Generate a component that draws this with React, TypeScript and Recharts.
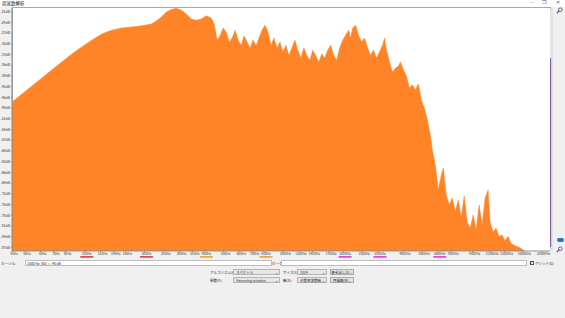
import React from 'react';
import { AreaChart, Area, XAxis, YAxis } from 'recharts';

// spectrum (Hz / dB)
const freqHz = [
  43, 48.3, 54.2, 60.8, 68.3, 76.6, 86, 96.5, 108.4, 121.6, 136.5, 153.3, 172, 193, 216.7, 229.6,
  243.3, 257.8, 273, 289, 306.5, 324.7, 344, 364.5, 386, 409, 433.5, 448.8, 464.6, 481, 497.9,
  515.5, 533.6, 552.3, 571.8, 592, 613, 634.6, 657, 680.2, 704.1, 728.9, 754.6, 781, 808.5, 837,
  867, 897.6, 929.3, 962, 995.8, 1030.9, 1067.2, 1104.7, 1143.7, 1183.9, 1226, 1269.3, 1314,
  1360.4, 1408.2, 1457.9, 1509.2, 1561.9, 1617, 1674, 1733, 1794.2, 1857.4, 1922.9, 1991.5,
  2061.8, 2134.4, 2184, 2235.1, 2314, 2395.4, 2480.4, 2568, 2658.5, 2752, 2849.1, 2949.6, 3053.6,
  3161.3, 3235.1, 3310.8, 3427.6, 3548.1, 3673.3, 3802.6, 3891, 4028.4, 4170.4, 4317.5, 4470.2,
  4627.9, 4790.8, 4958.9, 5133.9, 5314.7, 5504, 5632.8, 5831.5, 6036.8, 6249.7, 6396.1, 6621.6,
  6855.1, 7096.3, 7346.6, 7605.2, 7873.3, 8151.1, 8438.3, 8736, 9044.4, 9363.2, 9693.5, 10034.4,
  10388.4, 10754.1, 11008, 11396.6, 11798.4, 12214.5, 12647.2, 13093.3, 13554.3, 14030.9,
  14695.3, 15568, 16494.3,
];
const levelDb = [
  -46.3, -44.1, -41.8, -39.6, -37.3, -35.1, -32.9, -30.9, -29.0, -27.3, -26.2, -25.6, -25.3, -25.0, -24.5, -23.6,
  -22.5, -21.1, -20.4, -20.1, -20.6, -21.7, -23.1, -23.4, -23.1, -22.2, -22.8, -24.5, -29.0, -27.6, -25.6,
  -26.7, -29.5, -28.4, -26.2, -29.0, -30.4, -27.8, -29.5, -31.2, -29.0, -30.6, -28.4, -26.2, -24.8, -26.7,
  -30.4, -28.4, -31.2, -29.5, -32.3, -30.4, -33.2, -31.2, -29.0, -31.8, -34.0, -31.2, -33.2,
  -34.6, -31.8, -33.4, -35.1, -32.9, -34.0, -31.8, -30.4, -33.2, -34.6, -31.2, -29.0,
  -27.6, -26.2, -28.4, -25.6, -24.8, -27.6, -29.5, -28.4, -31.2, -33.2, -31.8, -34.0, -32.3,
  -30.4, -28.4, -31.8, -35.1, -37.9, -36.8, -36.2, -35.1, -37.3, -39.0, -42.4, -41.5,
  -42.9, -41.3, -45.7, -48.0, -51.3, -55.5, -59.7, -63.9, -70.9, -66.7, -64.8, -72.3,
  -75.1, -73.2, -77.1, -73.7, -78.8, -72.6, -79.9, -81.6, -77.9, -82.1, -75.1, -80.7,
  -73.2, -70.9, -79.9, -82.7, -81.6, -83.9, -83.5, -85.1, -83.9, -85.9,
  -86.5, -87.1, -88.0,
];

const freqTicks = [
  43, 50, 60, 70, 80, 100, 120, 140, 160, 200, 250, 300, 350, 400, 500, 600, 700, 800, 1000, 1200,
  1400, 1700, 2000, 2500, 3000, 4000, 5000, 6000, 7000, 9000, 11000, 13000, 16000, 20000,
];
const dbTicks = [
  -21, -24, -27, -30, -33, -36, -39, -42, -45, -48, -51, -54, -57, -60, -63, -66, -69, -72, -75, -78,
  -81, -84, -87,
];
const redMarks = [100, 200];
const orangeMarks = [400, 800];
const pinkMarks = [2000, 3000, 6000];

const data = freqHz.map((f, i) => ({ f, db: levelDb[i] }));

const markColor = (v: number) => {
  if (redMarks.includes(v)) return '#d9232d';
  if (orangeMarks.includes(v)) return '#f5921e';
  if (pinkMarks.includes(v)) return '#e424c8';
  return null;
};

const FreqTick = (props: any) => {
  const { x, y, payload } = props;
  const c = markColor(payload.value);
  return (
    <g>
      <text x={x + 2} y={y + 3} fontSize={3.3} textAnchor="middle" fill="#333">{payload.value}Hz</text>
      {c && <rect x={x + 2 - 6.5} y={y + 4.2} width={13} height={1.4} fill={c} />}
    </g>
  );
};

const txt = (s: string, left: number, top: number, extra: React.CSSProperties = {}) => (
  <div style={{ position: 'absolute', left, top, fontSize: 4, lineHeight: '5px', color: '#222', whiteSpace: 'nowrap', ...extra }}>{s}</div>
);

const box = (left: number, top: number, width: number, height: number, extra: React.CSSProperties = {}) => (
  <div style={{ position: 'absolute', left, top, width, height, boxSizing: 'border-box', ...extra }} />
);

const Select = ({ left, top, width, label }: { left: number; top: number; width: number; label: string }) => (
  <div style={{ position: 'absolute', left, top, width, height: 6, boxSizing: 'border-box', border: '0.5px solid #b4b4b4', background: '#e6e6e6', fontSize: 3.5, lineHeight: '5px', paddingLeft: 2, color: '#333', whiteSpace: 'nowrap' }}>
    {label}
    <span style={{ position: 'absolute', right: 1, top: 0, fontSize: 3.5 }}>⌄</span>
  </div>
);

const Button = ({ left, top, label }: { left: number; top: number; label: string }) => (
  <div style={{ position: 'absolute', left, top, width: 24, height: 6, boxSizing: 'border-box', border: '0.5px solid #adadad', background: '#e1e1e1', fontSize: 3.5, lineHeight: '5px', textAlign: 'center', color: '#222', whiteSpace: 'nowrap' }}>{label}</div>
);

const Magnifier = ({ left, top }: { left: number; top: number }) => (
  <svg style={{ position: 'absolute', left, top }} width={7} height={7} viewBox="0 0 7 7">
    <circle cx={4.3} cy={2.7} r={1.8} fill="none" stroke="#5a4a8a" strokeWidth={0.9} />
    <line x1={3} y1={4} x2={0.8} y2={6.2} stroke="#5a4a8a" strokeWidth={1.1} />
  </svg>
);

export default function App() {
  return (
    <div style={{ position: 'relative', width: 565, height: 318, background: '#f0f0f0', overflow: 'hidden', fontFamily: '"Noto Sans CJK JP", "Noto Sans", sans-serif' }}>
      <style>{'body{margin:0}'}</style>
      {box(0, 0, 565, 7, { background: '#ffffff' })}
      {txt('周波数解析', 2, 1, { fontSize: 4.5 })}
      {txt('—', 530, 0, { fontSize: 4.5, color: '#555' })}
      {txt('❐', 542, 0, { fontSize: 4.5, color: '#555' })}
      {txt('✕', 556, 0, { fontSize: 4.5, color: '#555' })}

      {box(12, 7, 539, 245, { background: '#ffffff', borderTop: '1px solid #a8a8a8', borderLeft: '1px solid #a8a8a8' })}

      <div style={{ position: 'absolute', left: 0, top: 0 }}>
        <AreaChart width={551} height={262} data={data} margin={{ top: 8, right: 1, left: 0, bottom: 0 }}>
          <XAxis
            dataKey="f"
            type="number"
            scale="log"
            domain={[43, 22050]}
            ticks={freqTicks}
            interval={0}
            allowDataOverflow
            height={11}
            tickSize={1}
            tickMargin={0}
            tick={<FreqTick />}
            stroke="#8a8a8a"
          />
          <YAxis
            type="number"
            domain={[-88, -20]}
            ticks={dbTicks}
            interval={0}
            allowDataOverflow
            width={12}
            tickSize={1}
            tickMargin={1}
            tickFormatter={(v: number) => `${v}dB`}
            tick={{ fontSize: 3.5, fill: '#333' }}
            stroke="#8a8a8a"
          />
          <Area
            type="linear"
            dataKey="db"
            baseValue={-88}
            stroke="#ff8427"
            strokeWidth={0.5}
            fill="#ff8427"
            fillOpacity={1}
            dot={false}
            activeDot={false}
            isAnimationActive={false}
          />
        </AreaChart>
      </div>

      {/* plot scrollbar */}
      {box(550, 8, 3, 243, { background: '#e4e4e4' })}
      {box(550, 58, 2, 189, { borderLeft: '1px solid #7d62a8', background: '#cfcfcf' })}
      {txt('˄', 550, 7, { fontSize: 4, color: '#666' })}
      {txt('˅', 550, 247, { fontSize: 4, color: '#666' })}

      {/* zoom column */}
      <Magnifier left={556} top={7} />
      {box(557, 238, 7, 4, { background: '#1f78d1', borderRadius: 2 })}
      <Magnifier left={556} top={246} />

      {/* cursor / peak row */}
      {txt('カーソル:', 1, 261, { fontSize: 3.5 })}
      {box(25, 260, 247, 6, { background: '#ffffff', border: '0.5px solid #bcbcbc' })}
      {txt('1000 Hz (B5) = -40 dB', 27, 260.5, { fontSize: 3.5 })}
      {txt('ピーク:', 272, 261, { fontSize: 3.5 })}
      {box(281, 260, 246, 6, { background: '#ffffff', border: '0.5px solid #bcbcbc' })}
      {box(530, 261, 4, 4, { background: '#ffffff', border: '0.5px solid #555' })}
      {txt('✓', 530, 260, { fontSize: 4, color: '#333' })}
      {txt('グリッド(G)', 535, 261, { fontSize: 3.5 })}

      {/* controls */}
      {txt('アルゴリズム(A):', 210, 270, { fontSize: 3.5 })}
      <Select left={233} top={269} width={47} label="スペクトル" />
      {txt('サイズ(S):', 283, 270, { fontSize: 3.5 })}
      <Select left={297} top={269} width={30} label="1024" />
      <Button left={330} top={269} label="書き出し(E)..." />
      {txt('関数(F):', 210, 278, { fontSize: 3.5 })}
      <Select left={233} top={277} width={47} label="Hamming window" />
      {txt('軸(X):', 283, 278, { fontSize: 3.5 })}
      <Select left={297} top={277} width={30} label="対数周波数軸" />
      <Button left={330} top={277} label="再描画(R)..." />
    </div>
  );
}
